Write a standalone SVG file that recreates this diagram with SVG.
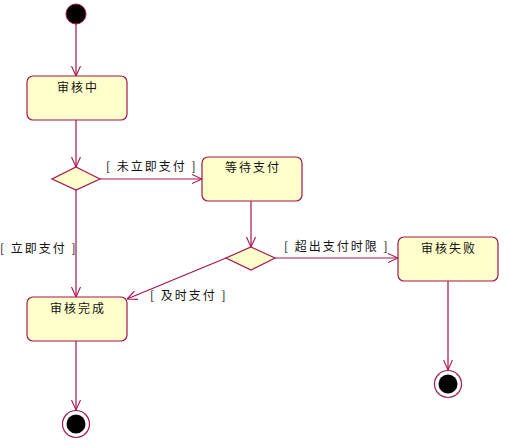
<svg xmlns="http://www.w3.org/2000/svg" width="510" height="447" viewBox="0 0 510 447">
<style>
.st{fill:#ffffcc;stroke:#a31550;stroke-width:1.2}
.ln{fill:none;stroke:#a31550;stroke-width:1.2;marker-end:url(#arr)}
.t{font-family:"Noto Sans CJK SC","Liberation Sans",sans-serif;font-size:12px;fill:#111;letter-spacing:2px}
.c{text-anchor:middle}
</style>
<defs>
<marker id="arr" viewBox="0 0 10 10" refX="10" refY="5" markerWidth="10" markerHeight="10" markerUnits="userSpaceOnUse" orient="auto">
<path d="M0,0.5 L10,5 L0,9.5" fill="none" stroke="#a31550" stroke-width="1.1"/>
</marker>
</defs>
<rect width="510" height="447" fill="#fff"/>
<g id="connectors">
<line class="ln" x1="76" y1="24" x2="76" y2="76"/>
<line class="ln" x1="76" y1="120" x2="76" y2="167"/>
<line class="ln" x1="100" y1="179" x2="202" y2="179"/>
<line class="ln" x1="76" y1="190" x2="76" y2="297"/>
<line class="ln" x1="251" y1="201" x2="251" y2="247"/>
<line class="ln" x1="275" y1="258" x2="398" y2="258"/>
<line class="ln" x1="226" y1="258" x2="127" y2="299"/>
<line class="ln" x1="76" y1="341" x2="76" y2="410"/>
<line class="ln" x1="448" y1="281" x2="448" y2="370"/>
<text class="t" x="106" y="171">[ 未立即支付 ]</text>
<text class="t" x="0" y="253">[ 立即支付 ]</text>
<text class="t" x="284" y="251">[ 超出支付时限 ]</text>
<text class="t" x="150" y="300">[ 及时支付 ]</text>
</g>
<g id="start"><circle cx="76" cy="14" r="10" fill="#000" stroke="#a31550" stroke-width="1"/></g>
<g id="n_review"><rect class="st" x="27" y="76" width="100" height="44" rx="6"/><text class="t c" x="78" y="92">审核中</text></g>
<g id="d1"><polygon class="st" points="76,167 100,179 76,190 52,179"/></g>
<g id="n_wait"><rect class="st" x="202" y="157" width="100" height="44" rx="6"/><text class="t c" x="253" y="172">等待支付</text></g>
<g id="d2"><polygon class="st" points="251,247 275,258 251,270 226,258"/></g>
<g id="n_fail"><rect class="st" x="398" y="237" width="100" height="44" rx="6"/><text class="t c" x="449" y="253">审核失败</text></g>
<g id="n_done"><rect class="st" x="27" y="297" width="100" height="44" rx="6"/><text class="t c" x="78" y="313">审核完成</text></g>
<g id="end1"><circle cx="76" cy="424" r="13.5" fill="#fff" stroke="#a31550" stroke-width="1.2"/><circle cx="76" cy="424" r="9.5" fill="#000"/></g>
<g id="end2"><circle cx="448" cy="384" r="13.5" fill="#fff" stroke="#a31550" stroke-width="1.2"/><circle cx="448" cy="384" r="9.5" fill="#000"/></g>
</svg>
